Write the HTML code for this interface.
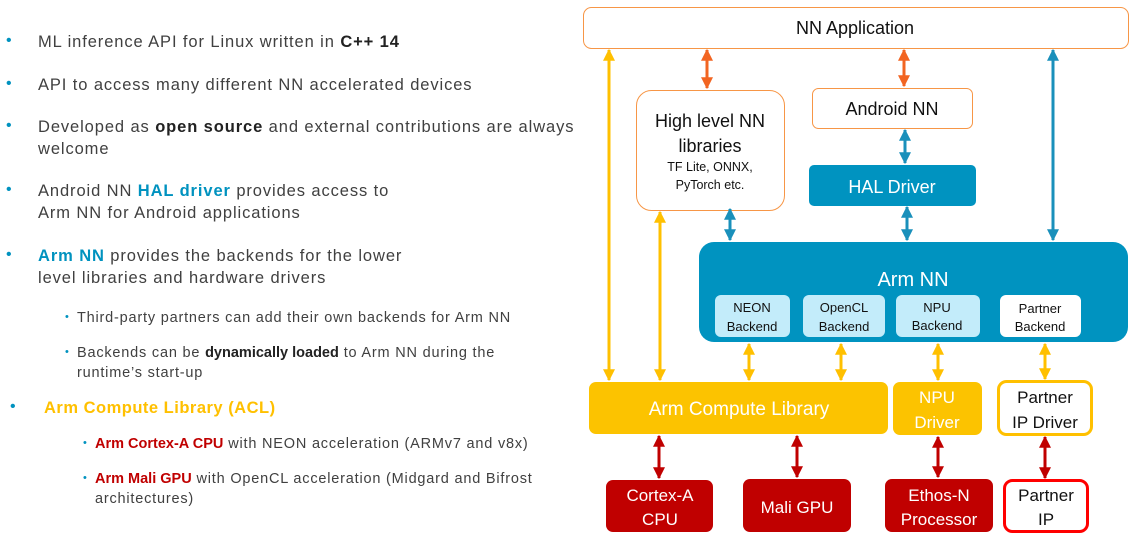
<!DOCTYPE html>
<html><head><meta charset="utf-8"><style>
body{margin:0;width:1131px;height:537px;background:#fff;position:relative;overflow:hidden;font-family:"Liberation Sans",sans-serif;color:#404040}
.t{position:absolute;white-space:nowrap;font-size:16.5px;line-height:22px;letter-spacing:0.9px}
.b{position:absolute;color:#0092bf;font-size:16px}
.s{position:absolute;white-space:nowrap;font-size:14.5px;line-height:20px;letter-spacing:0.8px}
.sb{position:absolute;color:#0092bf;font-size:11px}
.bl{color:#0092bf;font-weight:bold}
.rd{color:#c00000;font-weight:bold;letter-spacing:0}
</style></head><body>
<span class="b" style="left:6px;top:32px">•</span><div class="t" style="left:38px;top:31px">ML inference API for Linux written in <b style="color:#222">C++ 14</b></div>
<span class="b" style="left:6px;top:75px">•</span><div class="t" style="left:38px;top:74px">API to access many different NN accelerated devices</div>
<span class="b" style="left:6px;top:117px">•</span><div class="t" style="left:38px;top:116px">Developed as <b style="color:#222">open source</b> and external contributions are always<br>welcome</div>
<span class="b" style="left:6px;top:181px">•</span><div class="t" style="left:38px;top:180px">Android NN <span class="bl">HAL driver</span> provides access to<br>Arm NN for Android applications</div>
<span class="b" style="left:6px;top:246px">•</span><div class="t" style="left:38px;top:245px"><span class="bl">Arm NN</span> provides the backends for the lower<br>level libraries and hardware drivers</div>
<span class="sb" style="left:65px;top:311px">•</span><div class="s" style="left:77px;top:308px">Third-party partners can add their own backends for Arm NN</div>
<span class="sb" style="left:65px;top:346px">•</span><div class="s" style="left:77px;top:343px">Backends can be <b style="color:#222;letter-spacing:0">dynamically loaded</b> to Arm NN during the<br>runtime’s start-up</div>
<span class="b" style="left:10px;top:398px">•</span><div class="t" style="left:44px;top:397px;color:#ffc000;font-weight:bold;letter-spacing:0.5px">Arm Compute Library (ACL)</div>
<span class="sb" style="left:83px;top:437px">•</span><div class="s" style="left:95px;top:434px"><span class="rd">Arm Cortex-A CPU</span> with NEON acceleration (ARMv7 and v8x)</div>
<span class="sb" style="left:83px;top:472px">•</span><div class="s" style="left:95px;top:469px"><span class="rd">Arm Mali GPU</span> with OpenCL acceleration (Midgard and Bifrost<br>architectures)</div>

<svg width="1131" height="537" style="position:absolute;left:0;top:0" font-family="Liberation Sans, sans-serif">
<defs>
<marker id="y" viewBox="0 0 10 10" refX="9" refY="5" markerWidth="4" markerHeight="4" orient="auto-start-reverse"><path d="M0,0L10,5L0,10z" fill="#ffc000"/></marker>
<marker id="o" viewBox="0 0 10 10" refX="9" refY="5" markerWidth="4" markerHeight="4" orient="auto-start-reverse"><path d="M0,0L10,5L0,10z" fill="#f26522"/></marker>
<marker id="u" viewBox="0 0 10 10" refX="9" refY="5" markerWidth="4" markerHeight="4" orient="auto-start-reverse"><path d="M0,0L10,5L0,10z" fill="#1a90bb"/></marker>
<marker id="r" viewBox="0 0 10 10" refX="9" refY="5" markerWidth="4" markerHeight="4" orient="auto-start-reverse"><path d="M0,0L10,5L0,10z" fill="#c00000"/></marker>
</defs>
<rect x="583.5" y="7.5" width="545" height="41" rx="8" fill="#fff" stroke="#f79646"/>
<text x="855" y="34" font-size="18" text-anchor="middle" fill="#111">NN Application</text>
<rect x="636.5" y="90.5" width="148" height="120" rx="15" fill="#fff" stroke="#f79646"/>
<text x="710" y="127" font-size="18" text-anchor="middle" fill="#111">High level NN</text>
<text x="710" y="152" font-size="18" text-anchor="middle" fill="#111">libraries</text>
<text x="710" y="171" font-size="12.5" text-anchor="middle" fill="#111">TF Lite, ONNX,</text>
<text x="710" y="189" font-size="12.5" text-anchor="middle" fill="#111">PyTorch etc.</text>
<rect x="812.5" y="88.5" width="160" height="40" rx="6" fill="#fff" stroke="#f79646"/>
<text x="892" y="115" font-size="18" text-anchor="middle" fill="#111">Android NN</text>
<rect x="809" y="165" width="167" height="41" rx="5" fill="#0093c0"/>
<text x="892" y="193" font-size="18" text-anchor="middle" fill="#fff">HAL Driver</text>
<rect x="699" y="242" width="429" height="100" rx="15" fill="#0093c0"/>
<text x="913" y="286" font-size="20" text-anchor="middle" fill="#fff">Arm NN</text>
<rect x="715" y="295" width="75" height="42" rx="6" fill="#c3ecfa"/>
<rect x="803" y="295" width="82" height="42" rx="6" fill="#c3ecfa"/>
<rect x="896" y="295" width="84" height="42" rx="6" fill="#c3ecfa"/>
<rect x="1000" y="295" width="81" height="42" rx="6" fill="#fff"/>
<g font-size="13" text-anchor="middle" fill="#111">
<text x="752" y="312">NEON</text><text x="752" y="331">Backend</text>
<text x="844" y="312">OpenCL</text><text x="844" y="331">Backend</text>
<text x="937" y="312">NPU</text><text x="937" y="330">Backend</text>
<text x="1040" y="313">Partner</text><text x="1040" y="331">Backend</text>
</g>
<rect x="589" y="382" width="299" height="52" rx="7" fill="#fcc300"/>
<text x="739" y="415" font-size="19" text-anchor="middle" fill="#fff">Arm Compute Library</text>
<rect x="893" y="382" width="89" height="53" rx="7" fill="#fcc300"/>
<text x="937" y="403" font-size="17" text-anchor="middle" fill="#fff">NPU</text>
<text x="937" y="428" font-size="17" text-anchor="middle" fill="#fff">Driver</text>
<rect x="998.5" y="381.5" width="93" height="53" rx="8" fill="#fff" stroke="#ffc000" stroke-width="3"/>
<text x="1045" y="403" font-size="17" text-anchor="middle" fill="#111">Partner</text>
<text x="1045" y="428" font-size="17" text-anchor="middle" fill="#111">IP Driver</text>
<rect x="606" y="480" width="107" height="52" rx="7" fill="#c00000"/>
<text x="660" y="501" font-size="17" text-anchor="middle" fill="#fff">Cortex-A</text>
<text x="660" y="525" font-size="17" text-anchor="middle" fill="#fff">CPU</text>
<rect x="743" y="479" width="108" height="53" rx="7" fill="#c00000"/>
<text x="797" y="513" font-size="17" text-anchor="middle" fill="#fff">Mali GPU</text>
<rect x="885" y="479" width="108" height="53" rx="7" fill="#c00000"/>
<text x="939" y="501" font-size="17" text-anchor="middle" fill="#fff">Ethos-N</text>
<text x="939" y="525" font-size="17" text-anchor="middle" fill="#fff">Processor</text>
<rect x="1004.5" y="480.5" width="83" height="51" rx="8" fill="#fff" stroke="#ff0000" stroke-width="3"/>
<text x="1046" y="501" font-size="17" text-anchor="middle" fill="#111">Partner</text>
<text x="1046" y="525" font-size="17" text-anchor="middle" fill="#111">IP</text>
<g stroke-width="3" fill="none">
<line x1="609" y1="50" x2="609" y2="380" stroke="#ffc000" marker-start="url(#y)" marker-end="url(#y)"/>
<line x1="660" y1="212" x2="660" y2="380" stroke="#ffc000" marker-start="url(#y)" marker-end="url(#y)"/>
<line x1="707" y1="50" x2="707" y2="88" stroke="#f26522" marker-start="url(#o)" marker-end="url(#o)"/>
<line x1="904" y1="50" x2="904" y2="86" stroke="#f26522" marker-start="url(#o)" marker-end="url(#o)"/>
<line x1="905" y1="130" x2="905" y2="163" stroke="#1a90bb" marker-start="url(#u)" marker-end="url(#u)"/>
<line x1="907" y1="207" x2="907" y2="240" stroke="#1a90bb" marker-start="url(#u)" marker-end="url(#u)"/>
<line x1="730" y1="209" x2="730" y2="240" stroke="#1a90bb" marker-start="url(#u)" marker-end="url(#u)"/>
<line x1="1053" y1="50" x2="1053" y2="240" stroke="#1a90bb" marker-start="url(#u)" marker-end="url(#u)"/>
<line x1="749" y1="344" x2="749" y2="380" stroke="#ffc000" marker-start="url(#y)" marker-end="url(#y)"/>
<line x1="841" y1="344" x2="841" y2="380" stroke="#ffc000" marker-start="url(#y)" marker-end="url(#y)"/>
<line x1="938" y1="344" x2="938" y2="380" stroke="#ffc000" marker-start="url(#y)" marker-end="url(#y)"/>
<line x1="1045" y1="344" x2="1045" y2="379" stroke="#ffc000" marker-start="url(#y)" marker-end="url(#y)"/>
<line x1="659" y1="436" x2="659" y2="478" stroke="#c00000" marker-start="url(#r)" marker-end="url(#r)"/>
<line x1="797" y1="436" x2="797" y2="477" stroke="#c00000" marker-start="url(#r)" marker-end="url(#r)"/>
<line x1="938" y1="437" x2="938" y2="477" stroke="#c00000" marker-start="url(#r)" marker-end="url(#r)"/>
<line x1="1045" y1="437" x2="1045" y2="478" stroke="#c00000" marker-start="url(#r)" marker-end="url(#r)"/>
</g>
</svg>
</body></html>
